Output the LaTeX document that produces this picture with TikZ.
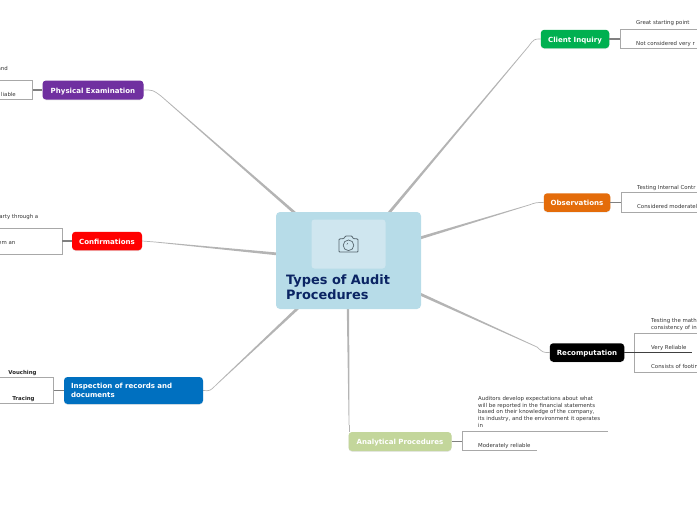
\documentclass[tikz,border=0pt]{standalone}
\usepackage{fontspec}
\setmainfont{DejaVu Sans}
\usetikzlibrary{calc,backgrounds,shadows}
\definecolor{linegray}{HTML}{B4B4B4}
\definecolor{brgray}{HTML}{A8A8A8}
\definecolor{cbg}{HTML}{B7DCE8}
\definecolor{cin}{HTML}{CFE6EF}
\definecolor{navy}{HTML}{0A2463}
\definecolor{cam}{HTML}{56666E}
\definecolor{cpurple}{HTML}{7030A0}
\definecolor{cred}{HTML}{FF0000}
\definecolor{cblue}{HTML}{0070C0}
\definecolor{cgreen}{HTML}{00B050}
\definecolor{corange}{HTML}{E46C0A}
\definecolor{csage}{HTML}{C3D69B}
\tikzset{
  x=1pt,y=-1pt,
  branchbase/.style={rounded corners=3.5pt,inner sep=0pt,font=\fontsize{7.05}{9.2}\selectfont\bfseries,text=white,
    drop shadow={opacity=.18,shadow xshift=0pt,shadow yshift=-.8pt}},
  branch/.style={branchbase,text height=8pt,text depth=1.5pt},
  leaf/.style={inner sep=0pt,font=\fontsize{5.42}{6.7}\selectfont,text=black!80,anchor=base west,align=left},
  leafr/.style={inner sep=0pt,font=\fontsize{5.42}{6.7}\selectfont,text=black!80,anchor=base east},
  leafb/.style={inner sep=0pt,font=\fontsize{5.42}{6.7}\selectfont\bfseries,text=black!85,anchor=base},
  brk/.style={draw=brgray,line width=.9pt},
  stem/.style={draw=black!50,line width=1.1pt},
  thin conn/.style={draw=linegray,line width=.7pt},
}
% #1 start, #2 bend, #3 control, #4 end node anchor
\newcommand{\tconn}[4]{%
  \fill[linegray] ($(#1)!1.4pt!90:(#2)$) -- ($(#2)!.35pt!-90:(#1)$) -- ($(#2)!.35pt!90:(#1)$) -- ($(#1)!1.4pt!-90:(#2)$) -- cycle;
  \draw[thin conn] (#2) .. controls (#3) .. (#4);
}
\begin{document}
\begin{tikzpicture}
\useasboundingbox (0,0) rectangle (697,520);
% central
\node[fill=cbg,rounded corners=4pt,minimum width=145pt,minimum height=97pt,inner sep=0pt] (ctr) at (348.5,260.5) {};
\node[fill=cin,rounded corners=3pt,minimum width=74pt,minimum height=49pt,inner sep=0pt] (pic) at (348.5,244) {};
\node[inner sep=0pt,anchor=north west,align=left,text=navy,font=\fontsize{12.9}{15}\selectfont\bfseries] (ctitle) at (286,274) {Types of Audit\\Procedures};
% camera icon
\draw[cam,line width=.8pt,rounded corners=.8pt] (339,252) -- (339,239) -- (344,238.5) -- (345.5,236) -- (352,236) -- (353,238.5) -- (358,239) -- (358,252) -- cycle;
\draw[cam,line width=.7pt] (348.5,245.3) circle (5.3pt);
\draw[cam,line width=.5pt] (346.8,244.5) -- (347.8,243);
% branches
\node[branch,fill=cpurple,minimum width=101pt,minimum height=19pt] (phys) at (93,90) {Physical Examination};
\node[branch,fill=cred,minimum width=70pt,minimum height=18.5pt] (conf) at (107,241) {Confirmations};
\node[branchbase,fill=cblue,minimum width=139pt,minimum height=27pt,align=left,text width=125pt] (insp) at (133.5,390.5) {\rule{0pt}{1pt}Inspection of records and\\documents};
\node[branch,fill=csage,minimum width=103pt,minimum height=19pt] (anal) at (400,441.5) {Analytical Procedures};
\node[branch,fill=cgreen,minimum width=68.5pt,minimum height=18.5pt] (cli) at (575,39) {Client Inquiry};
\node[branch,fill=corange,minimum width=66.5pt,minimum height=18.5pt] (obs) at (577,202.5) {Observations};
\node[branch,fill=black,minimum width=74.5pt,minimum height=18.5pt] (rec) at (587,352.5) {Recomputation};
% connector bends and controls
\coordinate (bphys) at (161,96);  \coordinate (kphys) at (153,90);
\coordinate (bconf) at (155,242); \coordinate (kconf) at (149,241.4);
\coordinate (binsp) at (216,385); \coordinate (kinsp) at (210,391);
\coordinate (banal) at (349,425);
\coordinate (bcli) at (528,47);   \coordinate (kcli) at (534,39);
\coordinate (bobs) at (529,205);  \coordinate (kobs) at (536,202.5);
\coordinate (brec) at (537,347);  \coordinate (krec) at (543,352.5);
\coordinate (sphys) at (296,214);
\coordinate (sconf) at (278,254);
\coordinate (sinsp) at (298,308);
\coordinate (sanal) at (348,308);
\coordinate (scli) at (388,214);
\coordinate (sobs) at (420,238);
\coordinate (srec) at (420,294);
\begin{scope}[on background layer]
\tconn{sphys}{bphys}{kphys}{phys.east}
\tconn{sconf}{bconf}{kconf}{conf.east}
\tconn{sinsp}{binsp}{kinsp}{insp.east}
\tconn{scli}{bcli}{kcli}{cli.west}
\tconn{sobs}{bobs}{kobs}{obs.west}
\tconn{srec}{brec}{krec}{rec.west}
\fill[linegray] ($(sanal)!1.2pt!90:(banal)$) -- ($(banal)!.35pt!-90:(sanal)$) -- ($(banal)!.35pt!90:(sanal)$) -- ($(sanal)!1.2pt!-90:(banal)$) -- cycle;
\draw[thin conn] (banal) -- (anal.north -| banal);
\end{scope}
% anchors of brackets
\coordinate (p1) at (0,80.5);  \coordinate (p2) at (32.5,80.5); \coordinate (p3) at (32.5,99.5); \coordinate (p4) at (0,99.5);
\coordinate (c1) at (0,228.5); \coordinate (c2) at (62,228.5); \coordinate (c3) at (62,254); \coordinate (c4) at (0,254);
\coordinate (i1) at (0,377.5); \coordinate (i2) at (53.5,377.5); \coordinate (i3) at (53.5,403.5); \coordinate (i4) at (0,403.5);
\coordinate (a1) at (608,431.5); \coordinate (a2) at (462,431.5); \coordinate (a3) at (462,450.5); \coordinate (a4) at (537,450.5);
\coordinate (l1) at (697,29.5); \coordinate (l2) at (620,29.5); \coordinate (l3) at (620,48.5); \coordinate (l4) at (697,48.5);
\coordinate (o1) at (697,192.5); \coordinate (o2) at (621,192.5); \coordinate (o3) at (621,212); \coordinate (o4) at (697,212);
\coordinate (r1) at (697,333); \coordinate (r2) at (634.5,333); \coordinate (r3) at (634.5,372); \coordinate (r4) at (697,372);
\coordinate (rm) at (692,352.5);
\draw[brk] (p1) -- (p2) -- (p3) -- (p4);
\draw[brk] (c1) -- (c2) -- (c3) -- (c4);
\draw[brk] (i1) -- (i2) -- (i3) -- (i4);
\draw[brk] (a1) -- (a2) -- (a3) -- (a4);
\draw[brk] (l1) -- (l2) -- (l3) -- (l4);
\draw[brk] (o1) -- (o2) -- (o3) -- (o4);
\draw[brk] (r1) -- (r2) -- (r3) -- (r4);
% stems
\draw[stem] (phys.west) -- (phys.west -| p2);
\draw[stem] (conf.west) -- (conf.west -| c2);
\draw[stem] (insp.west) -- (insp.west -| i2);
\draw[stem] (anal.east) -- (anal.east -| a2);
\draw[stem] (cli.east) -- (cli.east -| l2);
\draw[stem] (obs.east) -- (obs.east -| o2);
\draw[draw=black!75,line width=1pt] (rec.east) -- (rm);
% leaves
\node[leafr] (t1) at (8,70) {and};
\node[leafr] (t2) at (16,96) {liable};
\node[leafr] (t3) at (38.5,218) {arty through a};
\node[leafr] (t4) at (15.5,244) {em an};
\node[leafb] (t5) at (22.5,374) {Vouching};
\node[leafb] (t6) at (23.5,400) {Tracing};
\node[leaf] (t7) at (636,24) {Great starting point};
\node[leaf] (t8) at (636,45) {Not considered very r};
\node[leaf] (t9) at (637,189) {Testing Internal Contr};
\node[leaf] (t10) at (637,208.5) {Considered moderatel};
\node[leaf,anchor=north west] (t11) at (651,318.5) {Testing the math\\consistency of in};
\node[leaf] (t12) at (651,349) {Very Reliable};
\node[leaf] (t13) at (651,368) {Consists of footin};
\node[leaf,anchor=north west] (t14) at (478,396) {Auditors develop expectations about what\\will be reported in the financial statements\\based on their knowledge of the company,\\its industry, and the environment it operates\\in};
\node[leaf] (t15) at (478,447) {Moderately reliable};
\end{tikzpicture}
\end{document}
